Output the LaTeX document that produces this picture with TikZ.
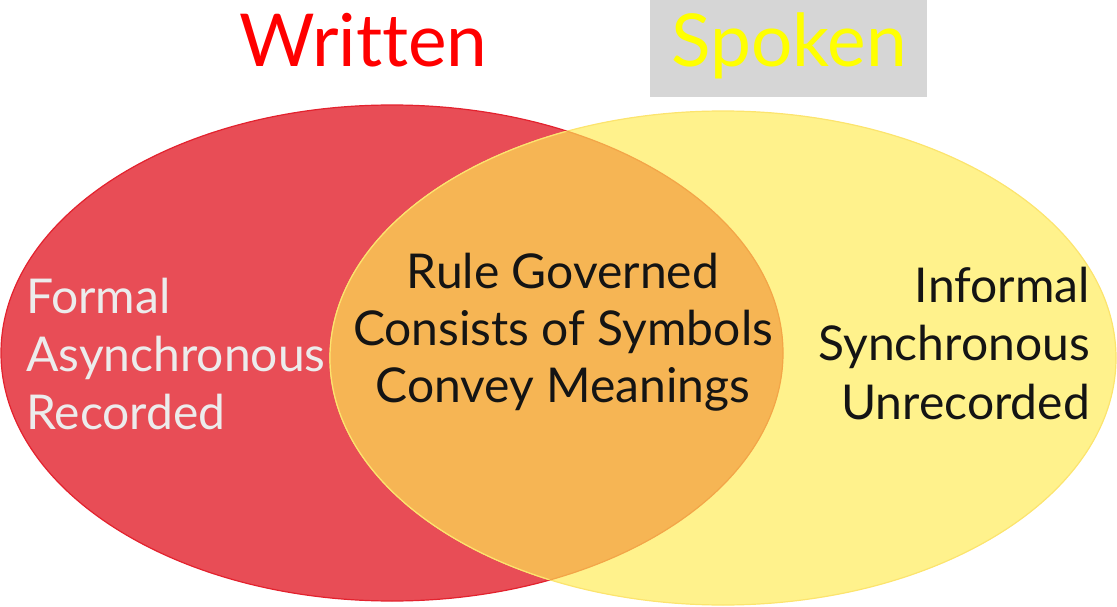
\documentclass[tikz,border=0pt]{standalone}
\usepackage{fontspec}
\setmainfont[Ligatures=NoCommon]{Lato}
\definecolor{redfill}{HTML}{E84D56}
\definecolor{redline}{HTML}{E3222E}
\definecolor{yelfill}{HTML}{FFF28C}
\definecolor{yelline}{HTML}{FCE46E}
\definecolor{orafill}{HTML}{F6B554}
\definecolor{oraline}{HTML}{F3A548}
\definecolor{boxgray}{HTML}{D6D6D6}
\definecolor{lighttext}{HTML}{ECECEC}
\definecolor{darktext}{HTML}{141414}
\tikzset{
  title/.style={anchor=base, inner sep=0pt, font=\fontsize{73}{88}\selectfont},
  bodytext/.style={inner sep=0pt, font=\fontsize{48}{58}\selectfont},
}
\begin{document}
\begin{tikzpicture}[x=1pt,y=-1pt]
\useasboundingbox (0,0) rectangle (1117,607);
% ellipses
\def\redell{(392,353) ellipse [x radius=391pt, y radius=248pt]}
\def\yelell{(723,358) ellipse [x radius=393pt, y radius=247pt]}
\fill[redfill] \redell;
\draw[redline, line width=1.2pt] \redell;
\fill[yelfill] \yelell;
\draw[yelline, line width=1.2pt] \yelell;
\begin{scope}
  \clip \redell;
  \fill[orafill] \yelell;
  \draw[yelline, line width=1.2pt] \yelell;
\end{scope}
\begin{scope}
  \clip \yelell;
  \draw[oraline, line width=1.2pt] \redell;
\end{scope}
% titles
\node[title, text={rgb,255:red,255;green,0;blue,0}] (written) at (363.5,67) {Written};
\node[fill=boxgray, minimum width=277pt, minimum height=97pt, inner sep=0pt] (spokenbox) at (788.5,48.5) {};
\node[title, text={rgb,255:red,255;green,255;blue,0}] (spoken) at (789,67) {Spoken};
% left texts
\node[bodytext, anchor=base west, text=lighttext] (l1) at (26,313) {Formal};
\node[bodytext, anchor=base west, text=lighttext] (l2) at (26,371) {Asynchronous};
\node[bodytext, anchor=base west, text=lighttext] (l3) at (26,429) {Recorded};
% middle texts
\node[bodytext, anchor=base, text=darktext] (m1) at (563,288) {Rule Governed};
\node[bodytext, anchor=base, text=darktext] (m2) at (563,345) {Consists of Symbols};
\node[bodytext, anchor=base, text=darktext] (m3) at (563,402) {Convey Meanings};
% right texts
\node[bodytext, anchor=base east, text=darktext] (r1) at (1090,302) {Informal};
\node[bodytext, anchor=base east, text=darktext] (r2) at (1090,360) {Synchronous};
\node[bodytext, anchor=base east, text=darktext] (r3) at (1090,419) {Unrecorded};
\end{tikzpicture}
\end{document}
